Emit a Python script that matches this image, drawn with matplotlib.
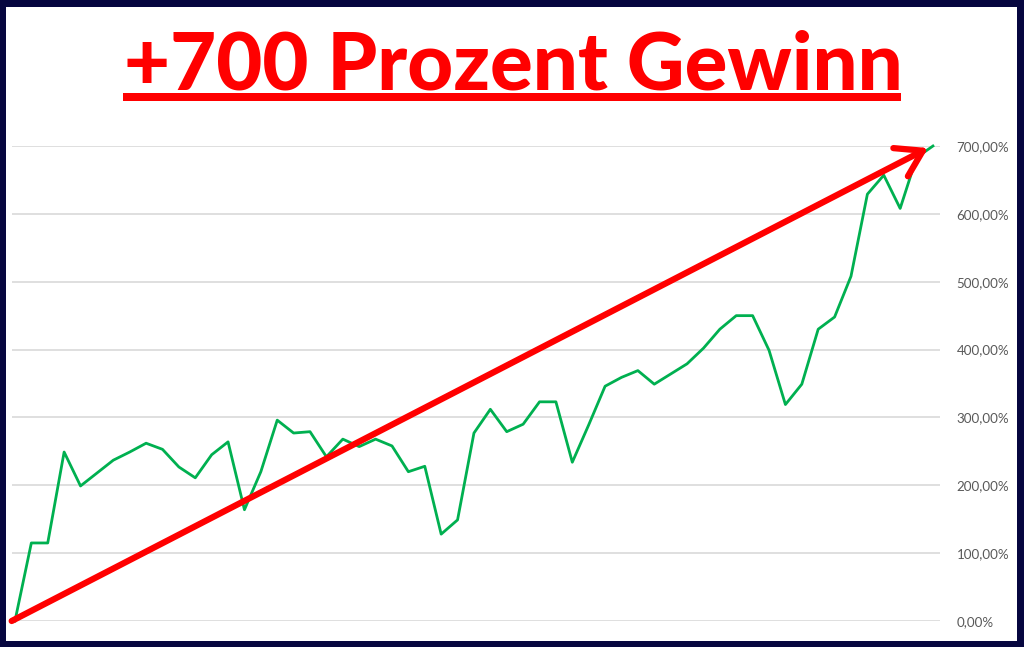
import numpy as np
import matplotlib
matplotlib.use("Agg")
import matplotlib.pyplot as plt
from matplotlib.patches import Rectangle

# Daten: kumulierter Gewinn in Prozent
gewinn = [0, 115, 115, 249, 199, 218, 237, 249, 262, 253,
          227, 211, 245, 264, 164, 220, 296, 277, 279, 242,
          268, 257, 268, 258, 220, 228, 128, 149, 277, 312,
          279, 290, 323, 323, 234, 289, 346, 359, 369, 349,
          364, 379, 402, 430, 450, 450, 399, 319, 349, 430,
          448, 508, 629, 657, 608, 683, 700]
y_ticks = [0, 100, 200, 300, 400, 500, 600, 700]
y_labels = ["0,00%", "100,00%", "200,00%", "300,00%", "400,00%",
            "500,00%", "600,00%", "700,00%"]
titel = "+700 Prozent Gewinn"

W, H = 1024, 649
fig = plt.figure(figsize=(W / 100, H / 100), dpi=100, facecolor="#06063f")

# weisse Innenfläche im dunklen Rahmen
fig.patches.append(Rectangle((6 / W, 1 - 641 / H), 1011 / W, 634 / H,
                             transform=fig.transFigure, facecolor="white",
                             edgecolor="none", zorder=-5))
fig.patches.append(Rectangle((0, 0), 1, 2 / H, transform=fig.transFigure,
                             facecolor="white", edgecolor="none", zorder=-5))

# Titel mit Unterstreichung
fig.text(513 / W, 1 - 90 / H, titel, ha="center", va="baseline",
         fontsize=57.3, color="#ff0000", family="Lato", weight="black")
fig.patches.append(Rectangle((123 / W, 1 - 100.5 / H), 778 / W, 7 / H,
                             transform=fig.transFigure, facecolor="#ff0000",
                             edgecolor="none", zorder=1))

ax = fig.add_axes([12 / W, 1 - 621 / H, 928 / W, 475 / H], zorder=3)
ax.set_facecolor("none")
x = np.arange(len(gewinn))
ax.plot(x, gewinn, color="#00b050", lw=2.0, clip_on=False, zorder=3)

ax.annotate("", xy=(55.7, 697), xytext=(-0.2, 0),
            arrowprops=dict(arrowstyle="->,head_length=0.6,head_width=0.38",
                            lw=4.5, color="#ff0000", mutation_scale=30,
                            shrinkA=0, shrinkB=0),
            annotation_clip=False, zorder=4)

ax.set_xlim(-0.18, 56.43)
ax.set_ylim(0, 700)
ax.set_xticks([])
ax.yaxis.tick_right()
ax.set_yticks(y_ticks)
ax.set_yticklabels(y_labels, family="Lato", fontsize=9.6, color="#595959")
ax.tick_params(axis="y", length=0, pad=12)
ax.grid(axis="y", color="#d9d9d9", lw=1.2)
ax.set_axisbelow(True)
for s in ax.spines.values():
    s.set_visible(False)

fig.savefig("out.png", dpi=100, facecolor=fig.get_facecolor())
